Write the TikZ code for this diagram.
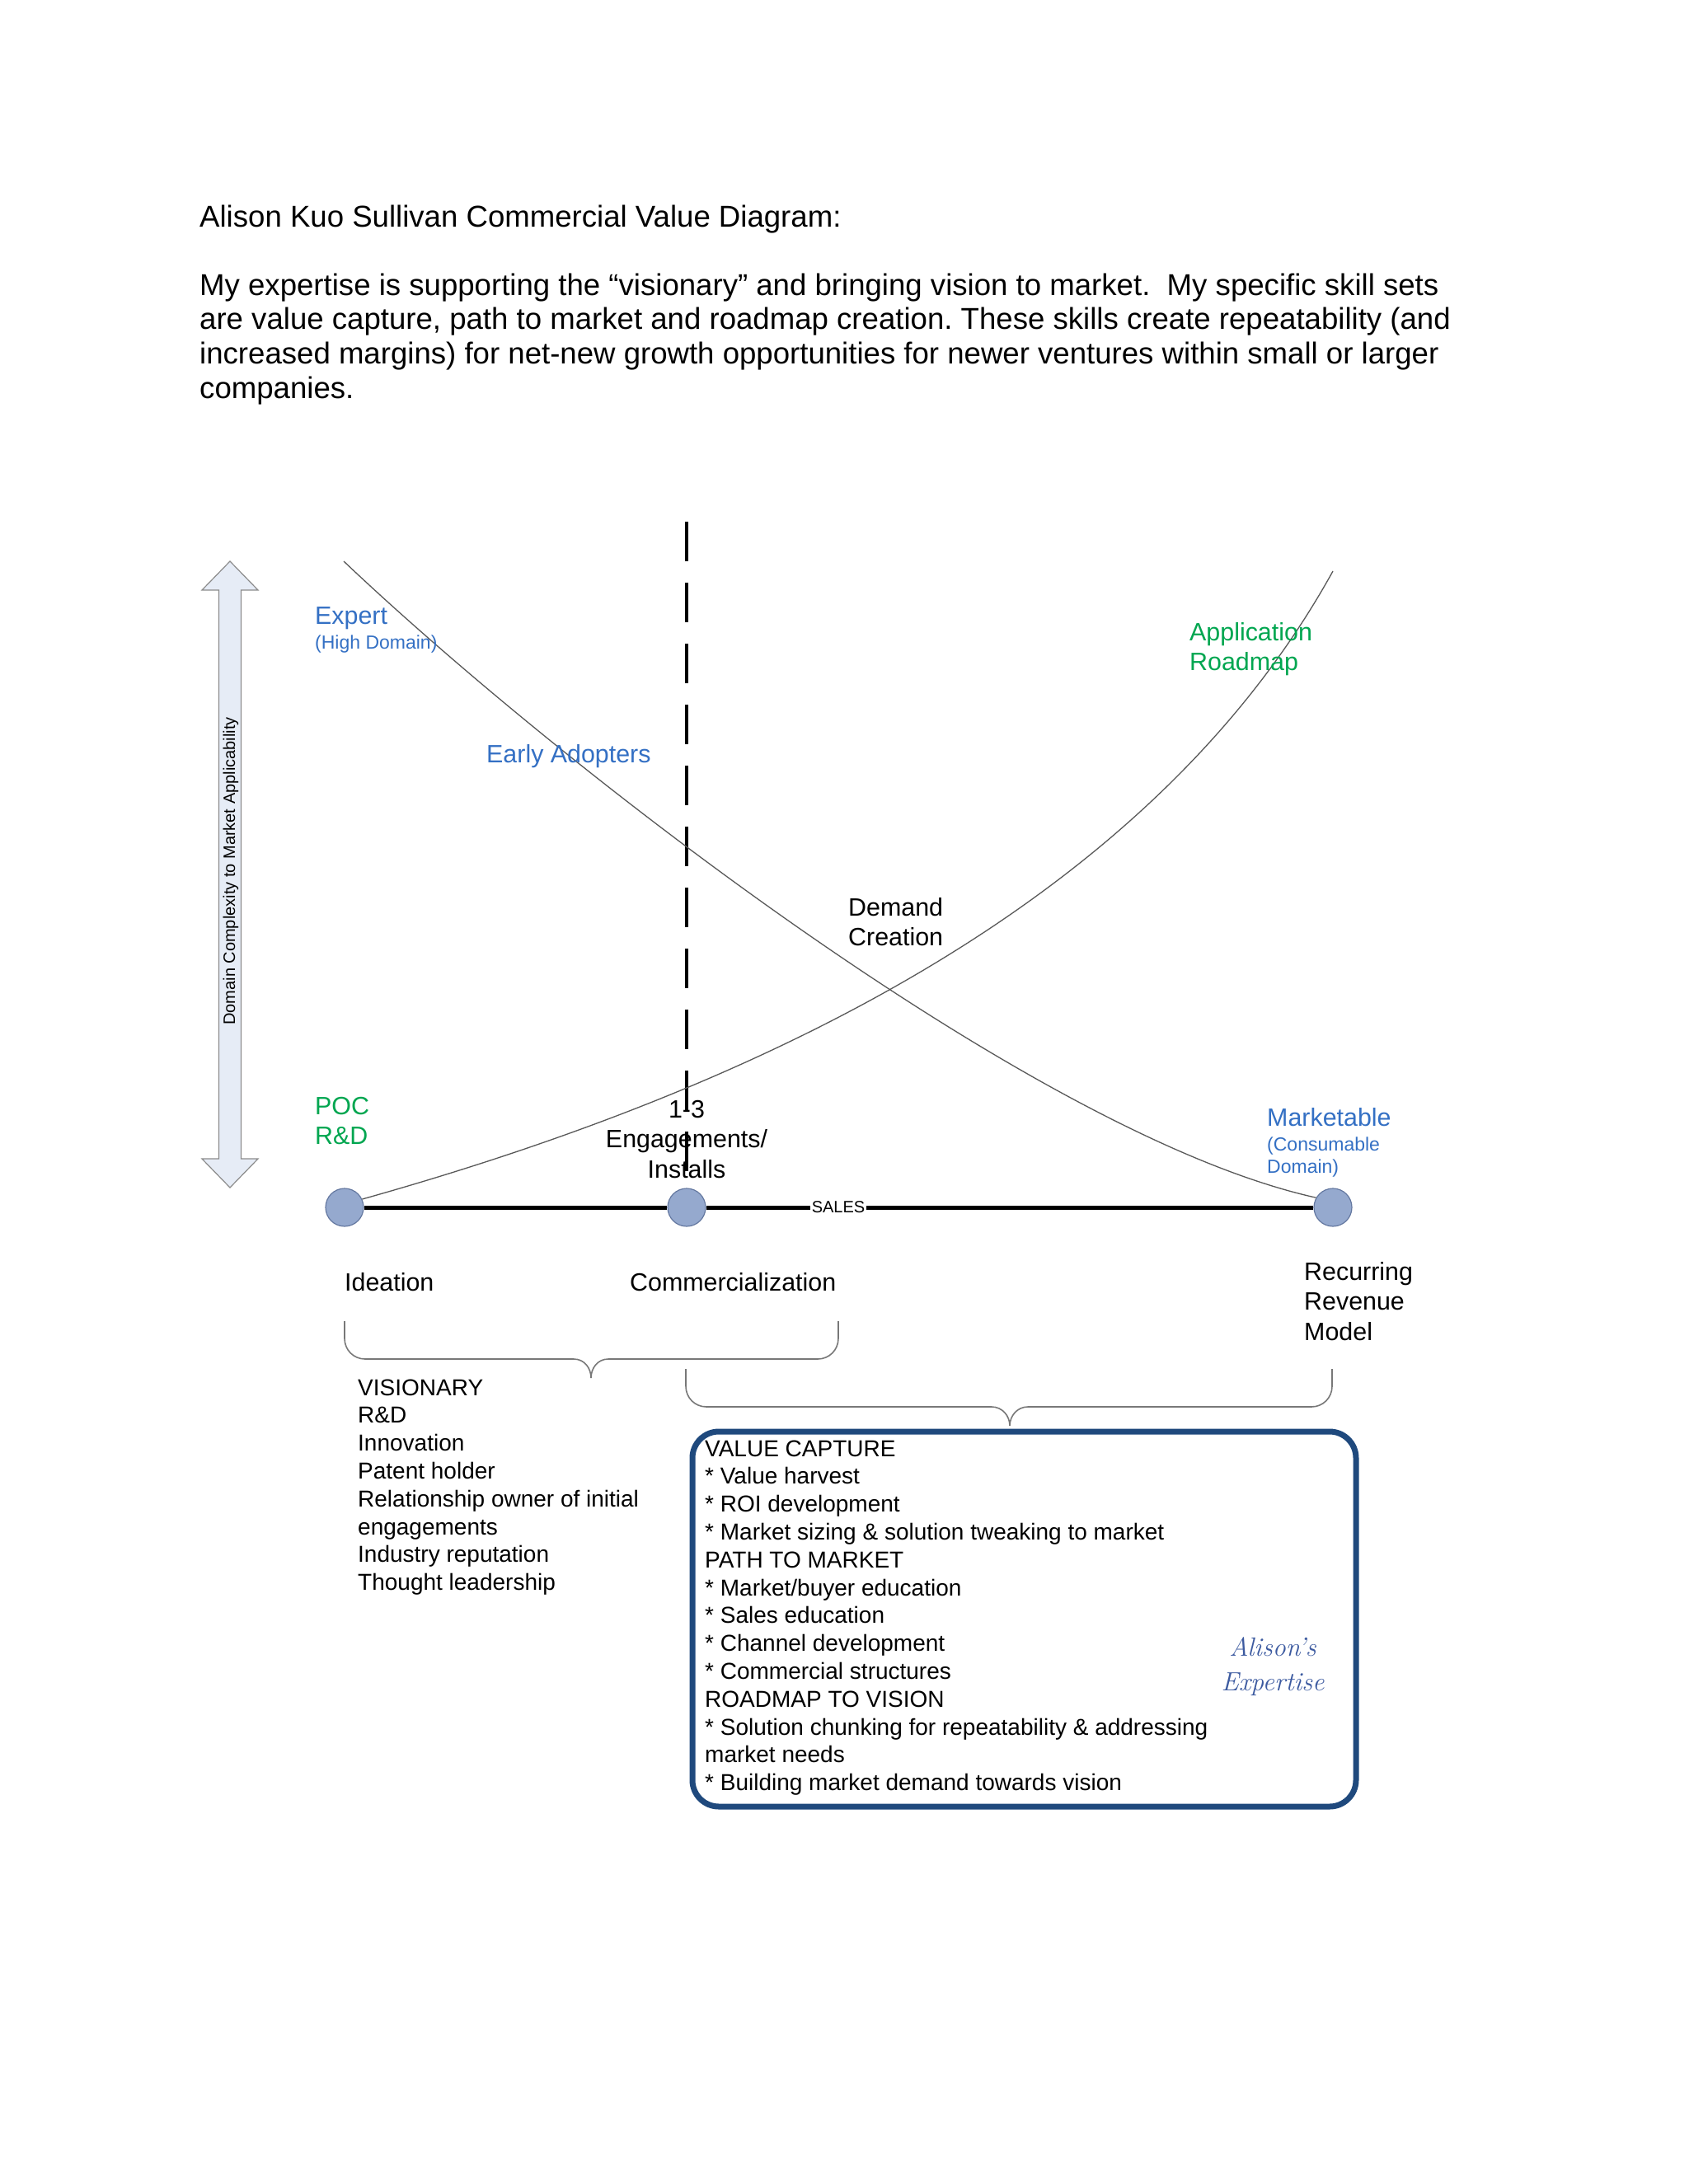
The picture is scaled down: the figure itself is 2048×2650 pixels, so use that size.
\documentclass[tikz,border=0pt]{standalone}
\usepackage{fontspec}
\setsansfont{Liberation Sans}
\renewcommand{\familydefault}{\sfdefault}
\frenchspacing
\newcommand{\ml}[2][l]{\begin{tabular}[t]{@{}#1@{}}#2\end{tabular}}
\newcommand{\fsTitle}{\fontsize{36.6}{41.7}\selectfont}
\newcommand{\fsLbl}{\fontsize{30.4}{36.6}\selectfont}
\newcommand{\fsSub}{\fontsize{23}{27.5}\selectfont}
\newcommand{\fsList}{\fontsize{28}{33.8}\selectfont}
\newcommand{\bul}{{*}\ }
\definecolor{lblblue}{RGB}{52,112,196}
\definecolor{lblgreen}{RGB}{0,166,80}
\definecolor{boxblue}{RGB}{31,73,125}
\definecolor{dotfill}{RGB}{149,169,206}
\definecolor{dotdraw}{RGB}{100,120,160}
\definecolor{arrowfill}{RGB}{230,236,246}
\definecolor{handblue}{RGB}{60,90,160}
\definecolor{bracegray}{RGB}{120,120,120}
\begin{document}
\begin{tikzpicture}[x=1pt,y=-1pt,
  txt/.style={inner sep=0pt, anchor=base west},
  lbl/.style={txt, font=\fsLbl},
  sublbl/.style={txt, font=\fsSub},
  listtxt/.style={txt, font=\fsList},
  dot/.style={circle, fill=dotfill, draw=dotdraw, line width=1.2pt, minimum size=46pt, inner sep=0pt},
  curve/.style={draw=black!65, line width=1.3pt},
  bracepath/.style={draw=bracegray, line width=1.6pt}]
\useasboundingbox (0,0) rectangle (2048,2650);
\fill[white] (0,0) rectangle (2048,2650);

% heading
\node[txt, font=\fsTitle] (title) at (242,275) {Alison Kuo Sullivan Commercial Value Diagram:};
\node[txt, font=\fsTitle] (para) at (242,358) {\ml{My expertise is supporting the “visionary” and bringing vision to market.\ \ My specific skill sets\\
are value capture, path to market and roadmap creation. These skills create repeatability (and\\
increased margins) for net-new growth opportunities for newer ventures within small or larger\\
companies.}};

% vertical double arrow
\filldraw[fill=arrowfill, draw=black!45, line width=1.2pt]
  (279,681) -- (313,716) -- (292.5,716) -- (292.5,1406) -- (313,1406) -- (279,1441)
  -- (245,1406) -- (265.5,1406) -- (265.5,716) -- (245,716) -- cycle;
\node[rotate=90, inner sep=0pt, font=\fontsize{20}{24}\selectfont] (axis) at (280,1057) {Domain Complexity to Market Applicability};

% dashed divider
\coordinate (dtop) at (833,633);
\coordinate (dbot) at (833,1421);
\draw[line width=4pt, dash pattern=on 48pt off 26pt] (dtop) -- (dbot);

% stage dots and sales line
\node[dot] (c1) at (418,1465) {};
\node[dot] (c2) at (833,1465) {};
\node[dot] (c3) at (1617,1465) {};
\node[inner sep=2pt, font=\fontsize{20}{24}\selectfont] (sales) at (1017,1465) {SALES};
\draw[line width=5pt] (c1) -- (c2);
\draw[line width=5pt] (c2) -- (sales);
\draw[line width=5pt] (sales) -- (c3);

% curves
\coordinate (desctop) at (417,681);
\coordinate (asctop) at (1617,693);
\draw[curve] (desctop) .. controls (671,922) and (1253,1377) .. (c3.150);
\draw[curve] (c1.25) .. controls (938,1315) and (1399,1087) .. (asctop);

% labels on chart
\node[lbl, text=lblblue] (expert) at (382,757) {Expert};
\node[sublbl, text=lblblue] (expertsub) at (382,787) {(High Domain)};
\node[lbl, text=lblblue] (early) at (590,925) {Early Adopters};
\node[lbl, text=lblgreen] (approad) at (1443,777) {\ml{Application\\Roadmap}};
\node[lbl, text=lblgreen] (poc) at (382,1352) {\ml{POC\\R\&D}};
\node[lbl, anchor=base] (engage) at (833,1356) {\ml[c]{1-3\\Engagements/\\Installs}};
\node[lbl] (demand) at (1029,1111) {\ml{Demand\\Creation}};
\node[lbl, text=lblblue] (market) at (1537,1366) {Marketable};
\node[sublbl, text=lblblue] (marketsub) at (1537,1396) {\ml{(Consumable\\Domain)}};

% stage names
\node[lbl] (ideation) at (418,1566) {Ideation};
\node[lbl] (commerc) at (764,1566) {Commercialization};
\node[lbl] (recurring) at (1582,1553) {\ml{Recurring\\Revenue\\Model}};

% left brace
\draw[bracepath] (418,1603) -- (418,1624) .. controls (418,1638) and (429,1649) .. (443,1649)
  -- (696,1649) .. controls (709,1649) and (717,1660) .. (717,1672)
  .. controls (717,1660) and (725,1649) .. (738,1649)
  -- (992,1649) .. controls (1006,1649) and (1017,1638) .. (1017,1624) -- (1017,1603);
% right brace
\draw[bracepath] (832,1661) -- (832,1682) .. controls (832,1696) and (843,1707) .. (857,1707)
  -- (1203,1707) .. controls (1216,1707) and (1225,1718) .. (1225,1730)
  .. controls (1225,1718) and (1234,1707) .. (1247,1707)
  -- (1591,1707) .. controls (1605,1707) and (1616,1696) .. (1616,1682) -- (1616,1661);

% visionary list
\node[listtxt] (visionary) at (434,1693) {\ml{VISIONARY\\R\&D\\Innovation\\Patent holder\\Relationship owner of initial\\engagements\\Industry reputation\\Thought leadership}};

% expertise box
\node[draw=boxblue, line width=7pt, rounded corners=32pt, minimum width=805pt, minimum height=455pt, inner sep=0pt] (box) at (1242.5,1964.5) {};
\node[listtxt] (boxtext) at (855,1767) {\ml{VALUE CAPTURE\\
\bul Value harvest\\
\bul ROI development\\
\bul Market sizing \& solution tweaking to market\\
PATH TO MARKET\\
\bul Market/buyer education\\
\bul Sales education\\
\bul Channel development\\
\bul Commercial structures\\
ROADMAP TO VISION\\
\bul Solution chunking for repeatability \& addressing\\
market needs\\
\bul Building market demand towards vision}};
\node[inner sep=0pt, anchor=base, text=handblue, font=\rmfamily\itshape\fontsize{32}{42}\selectfont] (alison) at (1544,2009) {\ml[c]{Alison’s\\Expertise}};
\end{tikzpicture}
\end{document}
